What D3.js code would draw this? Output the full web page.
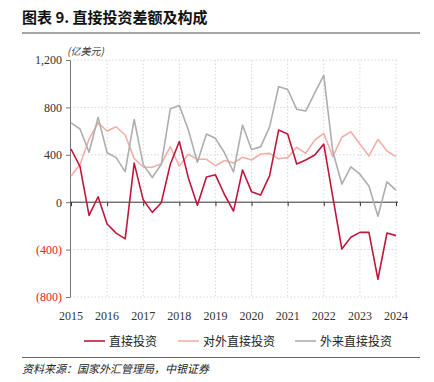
<!DOCTYPE html>
<html><head><meta charset="utf-8">
<script src="https://cdn.jsdelivr.net/npm/d3@7/dist/d3.min.js"></script>
<style>
body{margin:0;background:#fff;}
svg{display:block;}
</style></head>
<body><svg id="c" width="434" height="382"></svg>
<script>
const quarters = d3.range(37).map(i => 2015 + Math.floor(i/4) + "Q" + (i%4+1));
const netDI = [449,300,-112,46,-184,-261,-309,330,20,-86,-4,320,512,205,-25,213,231,65,-75,272,89,60,224,609,575,322,356,398,490,44,-395,-296,-255,-254,-650,-260,-282];
const outwardDI = [221,318,533,670,601,637,567,368,297,294,324,468,305,405,362,362,308,352,330,379,356,407,412,367,376,463,413,525,581,384,548,595,491,390,531,432,384];
const inwardDI = [670,618,421,716,417,376,258,698,317,208,320,788,817,610,337,575,539,417,255,651,445,467,636,976,951,785,769,923,1071,428,153,299,236,136,-119,172,102];
const yTicks = [1200,800,400,0,-400,-800];
const yearLabels = ["2015","2016","2017","2018","2019","2020","2021","2022","2023","2024"];
const seriesNames = ["直接投资","对外直接投资","外来直接投资"];
const colors = ["#C0173D","#F2AFA9","#AEAEAE"];

const svg = d3.select("#c");
const x = d3.scalePoint().domain(quarters).range([71,396]);
const y = d3.scaleLinear().domain([-800,1200]).range([297,60]);

// title
svg.append("text").attr("x",22).attr("y",23).attr("font-family","Noto Sans CJK SC")
  .attr("font-weight","bold").attr("font-size",15).attr("fill","#111")
  .text("图表 9. 直接投资差额及构成");
svg.append("line").attr("x1",22).attr("x2",420).attr("y1",33).attr("y2",33)
  .attr("stroke","#888").attr("stroke-width",1.5);

// unit
svg.append("text").attr("x",67).attr("y",55).attr("font-family","Noto Sans CJK SC")
  .attr("font-size",10).attr("font-style","italic").attr("fill","#333").text("(亿美元)");

// gridlines
const yearTicks = yearLabels.map(yl => yl+"Q1");
svg.append("g").selectAll("line").data(yTicks.filter(v=>v!==0)).join("line")
  .attr("x1",70).attr("x2",398).attr("y1",d=>y(d)).attr("y2",d=>y(d))
  .attr("stroke","#d8d8d8").attr("stroke-dasharray","1.5,2");
svg.append("g").selectAll("line").data(yearTicks.slice(1)).join("line")
  .attr("x1",d=>x(d)).attr("x2",d=>x(d)).attr("y1",60).attr("y2",297)
  .attr("stroke","#d8d8d8").attr("stroke-dasharray","1.5,2");

// y axis
const yAxis = d3.axisLeft(y).tickValues(yTicks).tickSize(4)
  .tickFormat(d => d<0 ? "("+d3.format(",")(-d)+")" : d3.format(",")(d));
const ga = svg.append("g").attr("transform","translate(70,0)").call(yAxis);
ga.select(".domain").attr("stroke","#777");
ga.selectAll(".tick line").attr("stroke","#777");
ga.selectAll(".tick text").attr("font-family","Liberation Serif").attr("font-size",12)
  .attr("fill",d=>d<0?"#E8202A":"#333").attr("x",-8);

// zero axis
const xAxis = d3.axisBottom(x).tickValues(yearTicks).tickSize(4).tickFormat(()=> "");
const gx = svg.append("g").attr("transform",`translate(0,${y(0)})`).call(xAxis);
gx.select(".domain").attr("stroke","#333").attr("d",`M70,0H398`);
gx.selectAll(".tick line").attr("stroke","#333");

// x labels
svg.append("g").selectAll("text").data(yearTicks).join("text")
  .attr("x",d=>x(d)).attr("y",320).attr("text-anchor","middle")
  .attr("font-family","Liberation Serif").attr("font-size",12).attr("fill","#333")
  .text((d,i)=>yearLabels[i]);

// lines
const line = d3.line().x((d,i)=>x(quarters[i])).y(d=>y(d));
[[outwardDI,1],[inwardDI,2],[netDI,0]].forEach(([data,k])=>{
  svg.append("path").datum(data).attr("d",line).attr("fill","none")
    .attr("stroke",colors[k]).attr("stroke-width",1.6).attr("stroke-linejoin","round");
});

// legend
const legX = [84,178,295];
seriesNames.forEach((n,i)=>{
  svg.append("line").attr("x1",legX[i]).attr("x2",legX[i]+21).attr("y1",341).attr("y2",341)
    .attr("stroke",colors[i]).attr("stroke-width",1.6);
  svg.append("text").attr("x",legX[i]+25).attr("y",345.5).attr("font-family","Noto Sans CJK SC")
    .attr("font-size",12).attr("fill","#222").text(n);
});

svg.append("line").attr("x1",22).attr("x2",420).attr("y1",357.5).attr("y2",357.5)
  .attr("stroke","#666").attr("stroke-width",1);
svg.append("text").attr("x",22).attr("y",373).attr("font-family","Noto Sans CJK SC")
  .attr("font-size",11).attr("font-style","italic").attr("fill","#222")
  .text("资料来源：国家外汇管理局，中银证券");
</script></body></html>
